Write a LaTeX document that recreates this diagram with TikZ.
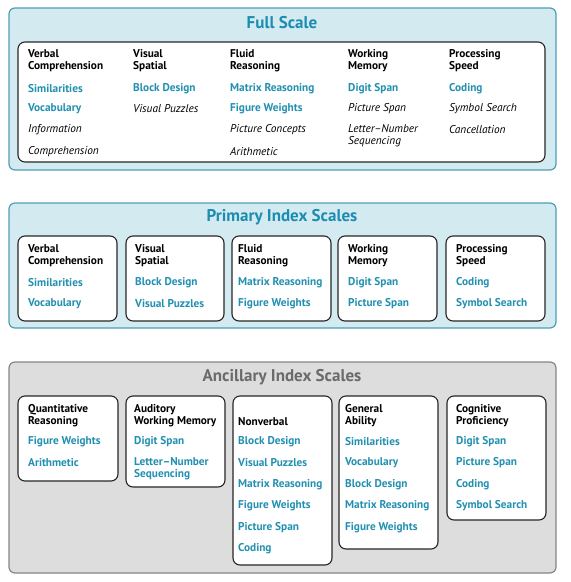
\documentclass[tikz,border=0pt]{standalone}
\usepackage{fontspec}
\setmainfont{PT Sans}
\definecolor{scalefill}{HTML}{D4EAF1}
\definecolor{scaleline}{HTML}{4C9EB7}
\definecolor{scaletitle}{HTML}{1B8DB0}
\definecolor{subtest}{HTML}{2290B1}
\definecolor{ancfill}{HTML}{DDDDDD}
\definecolor{ancline}{HTML}{858585}
\definecolor{anctitle}{HTML}{6A6A6A}
\tikzset{
  scalebox/.style={rounded corners=6pt, draw=scaleline, fill=scalefill, line width=1.2pt},
  ancbox/.style={rounded corners=6pt, draw=ancline, fill=ancfill, line width=1.2pt},
  groupbox/.style={rounded corners=7pt, draw=black!85, fill=white, line width=1.1pt},
  title/.style={font=\bfseries\fontsize{17}{19}\selectfont, inner sep=0pt, yshift=-0.5pt},
  head/.style={anchor=west, align=left, inner sep=0pt, yshift=-1pt, font=\bfseries\fontsize{11.3}{12}\selectfont},
  core/.style={anchor=west, align=left, inner sep=0pt, yshift=-1pt, text=subtest, font=\bfseries\fontsize{11.3}{12}\selectfont},
  supp/.style={anchor=west, align=left, inner sep=0pt, yshift=-1pt, font=\itshape\fontsize{11.3}{12}\selectfont}
}
\begin{document}
\begin{tikzpicture}[x=1pt, y=-1pt]
            \useasboundingbox (0,0) rectangle (571,582);

            %Full Scale
            \draw[scalebox] (9,8) rectangle (556,170);
            \draw[groupbox] (18,42) rectangle (545,162);
            \node[title, text=scaletitle] at (282,22) (fs) {Full Scale};

            \node[head] at (28,60)  (fsvc)  {Verbal\\Comprehension};
            \node[core] at (28,88)  (fssi)  {Similarities};
            \node[core] at (28,108) (fsvo)  {Vocabulary};
            \node[supp] at (28,129) (fsin)  {Information};
            \node[supp] at (28,151) (fsco)  {Comprehension};

            \node[head] at (133,60)  (fsvs)  {Visual\\Spatial};
            \node[core] at (133,88)  (fsbd)  {Block Design};
            \node[supp] at (133,108) (fsvp)  {Visual Puzzles};

            \node[head] at (230,60)  (fsfr)  {Fluid\\Reasoning};
            \node[core] at (230,88)  (fsmr)  {Matrix Reasoning};
            \node[core] at (230,108) (fsfw)  {Figure Weights};
            \node[supp] at (230,129) (fspc)  {Picture Concepts};
            \node[supp] at (230,151) (fsar)  {Arithmetic};

            \node[head] at (348,60)  (fswm)  {Working\\Memory};
            \node[core] at (348,88)  (fsds)  {Digit Span};
            \node[supp] at (348,108) (fsps)  {Picture Span};
            \node[supp] at (348,135) (fsln)  {Letter--Number\\Sequencing};

            \node[head] at (449,60)  (fsprs) {Processing\\Speed};
            \node[core] at (449,88)  (fscd)  {Coding};
            \node[supp] at (449,108) (fsss)  {Symbol Search};
            \node[supp] at (449,129) (fsca)  {Cancellation};

            %Primary Index Scales
            \draw[scalebox] (9,203) rectangle (556,328);
            \node[title, text=scaletitle] at (282,217) (pi) {Primary Index Scales};
            \draw[groupbox] (18,236) rectangle (117,321);
            \draw[groupbox] (126,236) rectangle (224,321);
            \draw[groupbox] (232,236) rectangle (331,321);
            \draw[groupbox] (338,236) rectangle (437,321);
            \draw[groupbox] (446,236) rectangle (545,321);

            \node[head] at (28,254.5) (pivc) {Verbal\\Comprehension};
            \node[core] at (28,282)   (pisi) {Similarities};
            \node[core] at (28,303)   (pivo) {Vocabulary};

            \node[head] at (135,254.5) (pivs) {Visual\\Spatial};
            \node[core] at (135,282)   (pibd) {Block Design};
            \node[core] at (135,303)   (pivp) {Visual Puzzles};

            \node[head] at (238,254.5) (pifr) {Fluid\\Reasoning};
            \node[core] at (238,282)   (pimr) {Matrix Reasoning};
            \node[core] at (238,303)   (pifw) {Figure Weights};

            \node[head] at (348,254.5) (piwm) {Working\\Memory};
            \node[core] at (348,282)   (pids) {Digit Span};
            \node[core] at (348,303)   (pips) {Picture Span};

            \node[head] at (456,254.5) (piprs) {Processing\\Speed};
            \node[core] at (456,282)   (picd)  {Coding};
            \node[core] at (456,303)   (piss)  {Symbol Search};

            %Ancillary Index Scales
            \draw[ancbox] (9,362) rectangle (556,573);
            \node[title, text=anctitle] at (282,377) (ai) {Ancillary Index Scales};
            \draw[groupbox] (18,396) rectangle (118,481);
            \draw[groupbox] (126,396) rectangle (225,487);
            \draw[groupbox] (233,396) rectangle (332,565);
            \draw[groupbox] (339,396) rectangle (438,549);
            \draw[groupbox] (447,396) rectangle (546,520);

            \node[head] at (28,414.5) (aiqr) {Quantitative\\Reasoning};
            \node[core] at (28,441)   (aifw) {Figure Weights};
            \node[core] at (28,462)   (aiar) {Arithmetic};

            \node[head] at (134,414.5) (aiawm) {Auditory\\Working Memory};
            \node[core] at (134,441)   (aids)  {Digit Span};
            \node[core] at (134,468)   (ailn)  {Letter--Number\\Sequencing};

            \node[head] at (238,421) (ainv)  {Nonverbal};
            \node[core] at (238,441) (ainbd) {Block Design};
            \node[core] at (238,462) (ainvp) {Visual Puzzles};
            \node[core] at (238,484) (ainmr) {Matrix Reasoning};
            \node[core] at (238,505) (ainfw) {Figure Weights};
            \node[core] at (238,527) (ainps) {Picture Span};
            \node[core] at (238,548) (aincd) {Coding};

            \node[head] at (345,414.5) (aiga)  {General\\Ability};
            \node[core] at (345,441)   (aigsi) {Similarities};
            \node[core] at (345,462)   (aigvo) {Vocabulary};
            \node[core] at (345,484)   (aigbd) {Block Design};
            \node[core] at (345,505)   (aigmr) {Matrix Reasoning};
            \node[core] at (345,527)   (aigfw) {Figure Weights};

            \node[head] at (456,414.5) (aicp)  {Cognitive\\Proficiency};
            \node[core] at (456,441)   (aicds) {Digit Span};
            \node[core] at (456,462)   (aicps) {Picture Span};
            \node[core] at (456,484)   (aiccd) {Coding};
            \node[core] at (456,505)   (aicss) {Symbol Search};
\end{tikzpicture}
\end{document}
